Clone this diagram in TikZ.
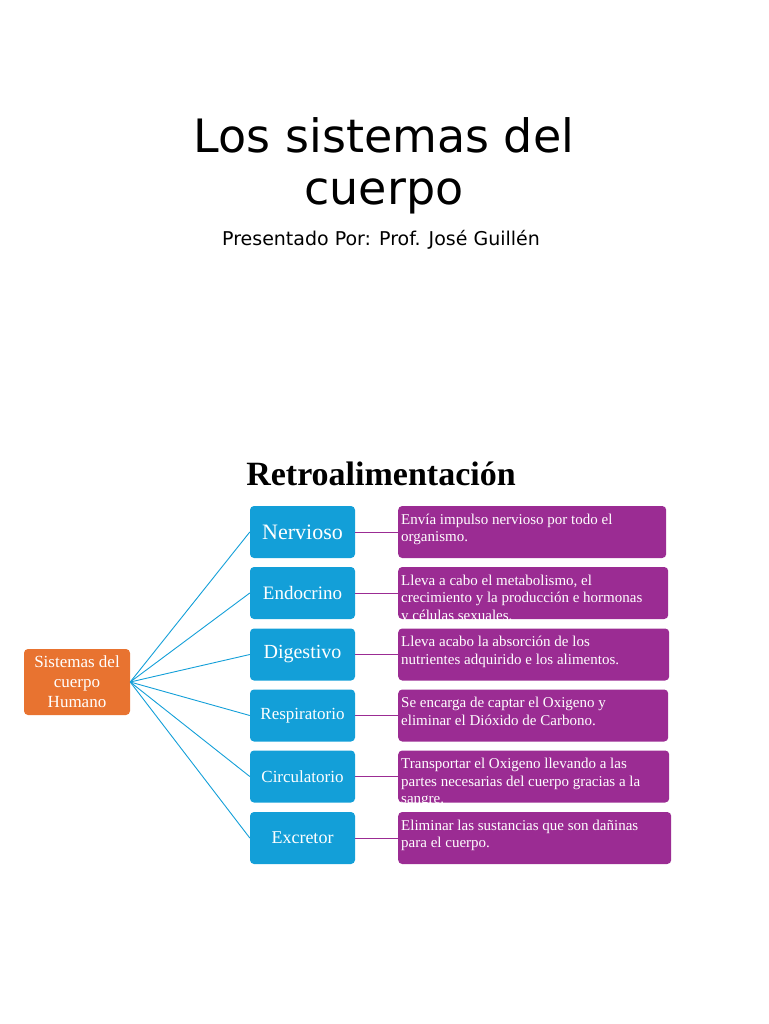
\documentclass[tikz,border=0pt]{standalone}
\usepackage{fontspec}
\setmainfont{Liberation Serif}
\newfontfamily\titlefont{DejaVu Sans}
\definecolor{obox}{HTML}{E87330}
\definecolor{bbox}{HTML}{139FD8}
\definecolor{pbox}{HTML}{9B2C93}
\begin{document}
\begin{tikzpicture}[x=1pt,y=-1pt,
 ob/.style={fill=obox,rounded corners=4pt,text=white,align=center,inner sep=0pt},
 bb/.style={fill=bbox,rounded corners=4pt,text=white,align=center,inner sep=0pt,minimum width=105pt,minimum height=52pt},
 pb/.style={fill=pbox,rounded corners=4pt,text=white,inner sep=0pt,minimum height=52pt},
 bl/.style={draw=bbox,line width=0.9pt},
 pl/.style={draw=pbox,line width=0.9pt}]
\useasboundingbox (0,0) rectangle (768,1024);
\node[font=\titlefont\fontsize{46}{52}\selectfont,align=center] (t) at (384,166) {Los sistemas del\\cuerpo};
\node[font=\titlefont\fontsize{19}{22}\selectfont] (s) at (381,240) {Presentado Por: Prof. José Guillén};
\node[font=\bfseries\fontsize{34}{40}\selectfont] (r) at (381,474) {Retroalimentación};
\node[ob,minimum width=106pt,minimum height=66pt,font=\fontsize{17}{20}\selectfont] (o) at (77,682) {Sistemas del\\cuerpo\\Humano};
\foreach \n/\y/\t/\f/\pw/\d in {
 1/532/Nervioso/22/268/{Envía impulso nervioso por todo el\\organismo.},
 2/593/Endocrino/19/270/{Lleva a cabo el metabolismo, el\\crecimiento y la producción e hormonas\\y células sexuales.},
 3/654.5/Digestivo/20/271/{Lleva acabo la absorción de los\\nutrientes adquirido e los alimentos.},
 4/715.5/Respiratorio/17/270/{Se encarga de captar el Oxigeno y\\eliminar el Dióxido de Carbono.},
 5/776.5/Circulatorio/17/271/{Transportar el Oxigeno llevando a las\\partes necesarias del cuerpo gracias a la\\sangre.},
 6/838/Excretor/18/273/{Eliminar las sustancias que son dañinas\\para el cuerpo.}}{
 \node[bb,font=\fontsize{\f}{\f}\selectfont] (b\n) at (302.5,\y) {\t};
 \node[pb,minimum width=\pw pt,anchor=west] (p\n) at (398,\y) {};
 \node[anchor=north west,text=white,align=left,inner sep=0pt,font=\fontsize{15}{17.5}\selectfont] (q\n) at ([xshift=3pt,yshift=-8pt]p\n.north west) {\d};
 \draw[bl] (o.east) -- (b\n.west);
 \draw[pl] (b\n.east) -- (p\n.west);
}
\end{tikzpicture}
\end{document}
